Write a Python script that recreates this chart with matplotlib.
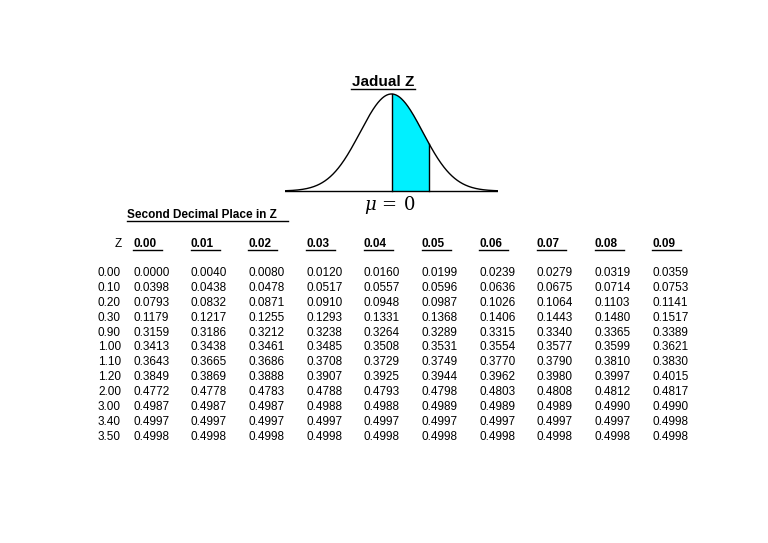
import numpy as np
import matplotlib.pyplot as plt

plt.rcParams['font.family'] = ['Liberation Sans', 'DejaVu Sans']

z_rows = ['0.00', '0.10', '0.20', '0.30', '0.90', '1.00', '1.10', '1.20',
          '2.00', '3.00', '3.40', '3.50']
col_heads = ['0.00', '0.01', '0.02', '0.03', '0.04', '0.05', '0.06', '0.07', '0.08', '0.09']
table = [
    [0.0000, 0.0040, 0.0080, 0.0120, 0.0160, 0.0199, 0.0239, 0.0279, 0.0319, 0.0359],
    [0.0398, 0.0438, 0.0478, 0.0517, 0.0557, 0.0596, 0.0636, 0.0675, 0.0714, 0.0753],
    [0.0793, 0.0832, 0.0871, 0.0910, 0.0948, 0.0987, 0.1026, 0.1064, 0.1103, 0.1141],
    [0.1179, 0.1217, 0.1255, 0.1293, 0.1331, 0.1368, 0.1406, 0.1443, 0.1480, 0.1517],
    [0.3159, 0.3186, 0.3212, 0.3238, 0.3264, 0.3289, 0.3315, 0.3340, 0.3365, 0.3389],
    [0.3413, 0.3438, 0.3461, 0.3485, 0.3508, 0.3531, 0.3554, 0.3577, 0.3599, 0.3621],
    [0.3643, 0.3665, 0.3686, 0.3708, 0.3729, 0.3749, 0.3770, 0.3790, 0.3810, 0.3830],
    [0.3849, 0.3869, 0.3888, 0.3907, 0.3925, 0.3944, 0.3962, 0.3980, 0.3997, 0.4015],
    [0.4772, 0.4778, 0.4783, 0.4788, 0.4793, 0.4798, 0.4803, 0.4808, 0.4812, 0.4817],
    [0.4987, 0.4987, 0.4987, 0.4988, 0.4988, 0.4989, 0.4989, 0.4989, 0.4990, 0.4990],
    [0.4997, 0.4997, 0.4997, 0.4997, 0.4997, 0.4997, 0.4997, 0.4997, 0.4997, 0.4998],
    [0.4998, 0.4998, 0.4998, 0.4998, 0.4998, 0.4998, 0.4998, 0.4998, 0.4998, 0.4998],
]
shade_z = 1.2

fig = plt.figure(figsize=(7.68, 5.43), dpi=100)
page = fig.add_axes([0, 0, 1, 1])
page.set_xlim(0, 768)
page.set_ylim(543, 0)
page.axis('off')

# bell curve in its own axes
cur = fig.add_axes([285 / 768, 1 - 193 / 543, 213 / 768, 100 / 543])
x = np.linspace(-3.4, 3.4, 400)
y = np.exp(-x ** 2 / 2)
cur.plot(x, y, color='black', lw=1)
xs = np.linspace(0, shade_z, 100)
cur.fill_between(xs, np.exp(-xs ** 2 / 2), color='#00f0ff', lw=0)
cur.plot([0, 0], [0, 1], color='black', lw=1)
cur.plot([shade_z, shade_z], [0, np.exp(-shade_z ** 2 / 2)], color='black', lw=1)
cur.plot([-3.4, 3.4], [0, 0], color='black', lw=1)
cur.set_xlim(-3.4, 3.4)
cur.set_ylim(-0.02, 1.01)
cur.axis('off')

page.text(383, 82, 'Jadual Z', fontsize=11, fontweight='bold', ha='center', va='center')
page.plot([351, 415], [89, 89], color='black', lw=1)
page.text(390, 205, r'$\mu\,=\,0$', fontsize=13, ha='center', va='center',
          math_fontfamily='dejavuserif')

page.text(127, 215, 'Second Decimal Place in Z', fontsize=8.5, fontweight='bold',
          ha='left', va='center')
page.plot([127, 288], [221, 221], color='black', lw=1)

col_x = [133 + i * 57.7 for i in range(10)]
page.text(122, 244, 'Z', fontsize=8.5, ha='right', va='center')
for cx, h in zip(col_x, col_heads):
    page.text(cx, 244, h, fontsize=8.5, fontweight='bold', ha='left', va='center')
    page.plot([cx, cx + 29], [250, 250], color='black', lw=1)

for r, (zr, vals) in enumerate(zip(z_rows, table)):
    yy = 273 + r * 14.9
    page.text(121, yy, zr, fontsize=8.5, ha='right', va='center')
    for cx, v in zip(col_x, vals):
        page.text(cx, yy, f'{v:.4f}', fontsize=8.5, ha='left', va='center')

fig.savefig('out.png', dpi=100)
